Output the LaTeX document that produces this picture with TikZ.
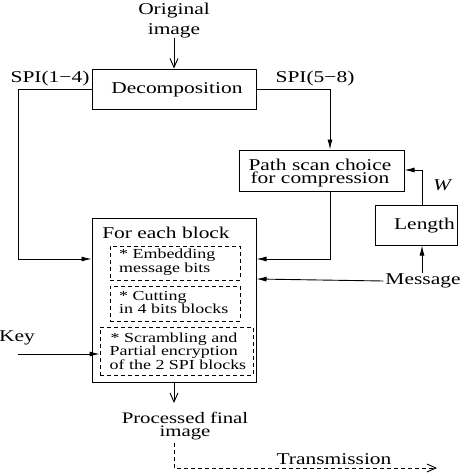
\documentclass[tikz,border=0pt]{standalone}
\usepackage{fontspec}
\setmainfont{Liberation Serif}[FakeStretch=1.3]
\usetikzlibrary{arrows.meta}
\begin{document}
\begin{tikzpicture}[x=1pt,y=-1pt,
  box/.style={draw,line width=1pt,inner sep=0pt},
  dbox/.style={draw,line width=0.9pt,dash pattern=on 4pt off 3pt,inner sep=0pt},
  big/.style={font=\fontsize{16.5}{13.5}\selectfont,inner sep=0pt},
  small/.style={font=\fontsize{13.8}{13.5}\selectfont,inner sep=0pt,align=left},
  con/.style={line width=0.9pt},
  fa/.style={con,-{Latex[length=10pt,width=5pt]}},
  oa/.style={con,-{Straight Barb[length=9pt,width=8pt]}}]
\useasboundingbox (0,0) rectangle (474,474);
% boxes
\node[box,minimum width=164pt,minimum height=40pt] (dec) at (174,89) {};
\node[big] (dect) at (177,90) {Decomposition};
\node[box,minimum width=165pt,minimum height=41pt] (path) at (321.5,170.5) {};
\node[big,align=center] (patht) at (320,173) {Path scan choice\\for compression};
\node[box,minimum width=82pt,minimum height=40pt] (len) at (416,225) {};
\node[big] (lent) at (424.5,226) {Length};
\node[box,minimum width=164pt,minimum height=164pt] (blk) at (174,300) {};
\node[big] (blkt) at (166,233) {For each block};
\node[dbox,minimum width=130pt,minimum height=34pt] (d1) at (175,263) {};
\node[small,anchor=west] (d1t) at (119,262) {* Embedding\\message bits};
\node[dbox,minimum width=130pt,minimum height=35pt] (d2) at (175,303.5) {};
\node[small,anchor=west] (d2t) at (119,302.5) {* Cutting\\in 4 bits blocks};
\node[dbox,minimum width=153pt,minimum height=48pt] (d3) at (176.5,351) {};
\node[small,anchor=west] (d3t) at (109.5,351) {\hspace*{1pt}* Scrambling and\\Partial encryption\\of the 2 SPI blocks};
% free texts
\node[big,align=center,font=\fontsize{16.5}{20}\selectfont] (orig) at (174,21) {Original\\image};
\node[big] (spi1) at (50,79) {SPI(1−4)};
\node[big] (spi2) at (315,79) {SPI(5−8)};
\node[big] (w) at (442,185) {\itshape W};
\node[big] (msg) at (423,281) {Message};
\node[big] (key) at (17,338) {Key};
\node[big,align=center,font=\fontsize{16}{12.5}\selectfont] (proc) at (185,426) {Processed final\\image};
\node[big] (trans) at (334,459) {Transmission};
% coordinates
\coordinate (c1) at (18,89);
\coordinate (c2) at (18,259);
\coordinate (c3) at (330,89);
\coordinate (c4) at (330,259);
\coordinate (c5) at (422,170);
\coordinate (c6) at (174,468);
\coordinate (c7) at (437,468);
\coordinate (c8) at (18,354);
\coordinate (c9) at (174,443);
\coordinate (c10) at (174,38);
% connectors
\draw[oa] (c10) -- (dec.north);
\draw[fa] (dec.west) -- (c1) -- (c2) -- (blk.west |- c2);
\draw[fa] (dec.east) -- (c3) -- (path.north -| c3);
\draw[fa] (path.south -| c3) -- (c4) -- (blk.east |- c4);
\draw[fa] (len.north -| c5) -- (c5) -- (path.east |- c5);
\draw[fa] (msg.north -| c5) ++(0,-1) -- (len.south -| c5);
\draw[fa] (msg.west) ++(-2,0) -- (blk.east |- 0,279);
\draw[fa] (c8) -- (d3.west |- c8);
\draw[oa] (blk.south) -- (174,403);
\draw[oa,dash pattern=on 4pt off 3pt] (c9) -- (c6) -- (c7);
\end{tikzpicture}
\end{document}
